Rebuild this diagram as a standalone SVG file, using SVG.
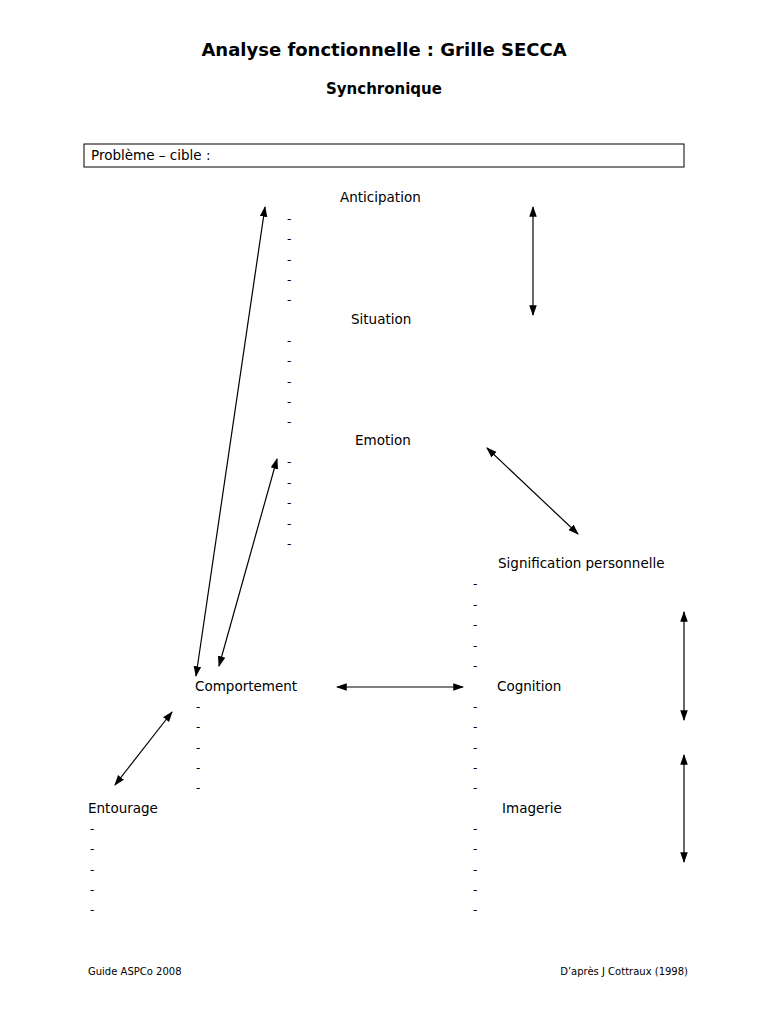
<svg xmlns="http://www.w3.org/2000/svg" width="768" height="1024" viewBox="0 0 768 1024">
<defs>
<marker id="ah" viewBox="0 0 10 10" refX="9" refY="5" markerWidth="9" markerHeight="9" orient="auto-start-reverse"><path d="M0,1.5 L10,5 L0,8.5 z" fill="#000"/></marker>
<style>
text{font-family:"DejaVu Sans","Liberation Sans",sans-serif;fill:#000}
.t{font-size:13.5px}
.d{font-size:12px}
.c line{stroke:#000;stroke-width:1.2;marker-start:url(#ah);marker-end:url(#ah)}
</style>
</defs>
<rect width="768" height="1024" fill="#fff"/>
<text x="384" y="56" text-anchor="middle" font-size="18" font-weight="bold">Analyse fonctionnelle : Grille SECCA</text>
<text x="384" y="94" text-anchor="middle" font-size="15" font-weight="bold">Synchronique</text>
<g id="probleme"><rect x="84" y="144" width="600" height="23" fill="none" stroke="#000" stroke-width="1"/><text class="t" x="91" y="160">Problème – cible :</text></g>
<g id="anticipation"><text class="t" x="340" y="202">Anticipation</text><text class="d" x="287" y="223">-</text><text class="d" x="287" y="243">-</text><text class="d" x="287" y="264">-</text><text class="d" x="287" y="284">-</text><text class="d" x="287" y="304">-</text></g>
<g id="situation"><text class="t" x="351" y="324">Situation</text><text class="d" x="287" y="345">-</text><text class="d" x="287" y="365">-</text><text class="d" x="287" y="386">-</text><text class="d" x="287" y="406">-</text><text class="d" x="287" y="426">-</text></g>
<g id="emotion"><text class="t" x="355" y="445">Emotion</text><text class="d" x="287" y="466">-</text><text class="d" x="287" y="487">-</text><text class="d" x="287" y="507">-</text><text class="d" x="287" y="528">-</text><text class="d" x="287" y="548">-</text></g>
<g id="signification"><text class="t" x="498" y="568">Signification personnelle</text><text class="d" x="473" y="588">-</text><text class="d" x="473" y="609">-</text><text class="d" x="473" y="629">-</text><text class="d" x="473" y="650">-</text><text class="d" x="473" y="670">-</text></g>
<g id="cognition"><text class="t" x="497" y="691">Cognition</text><text class="d" x="473" y="711">-</text><text class="d" x="473" y="731">-</text><text class="d" x="473" y="752">-</text><text class="d" x="473" y="772">-</text><text class="d" x="473" y="792">-</text></g>
<g id="imagerie"><text class="t" x="502" y="813">Imagerie</text><text class="d" x="473" y="833">-</text><text class="d" x="473" y="853">-</text><text class="d" x="473" y="874">-</text><text class="d" x="473" y="894">-</text><text class="d" x="473" y="914">-</text></g>
<g id="comportement"><text class="t" x="195" y="691">Comportement</text><text class="d" x="196" y="711">-</text><text class="d" x="196" y="731">-</text><text class="d" x="196" y="752">-</text><text class="d" x="196" y="772">-</text><text class="d" x="196" y="792">-</text></g>
<g id="entourage"><text class="t" x="88" y="813">Entourage</text><text class="d" x="90" y="833">-</text><text class="d" x="90" y="853">-</text><text class="d" x="90" y="874">-</text><text class="d" x="90" y="894">-</text><text class="d" x="90" y="914">-</text></g>
<g class="c" id="connectors">
<line x1="265" y1="207" x2="196" y2="676"/>
<line x1="277" y1="459" x2="219" y2="666"/>
<line x1="533" y1="207" x2="533" y2="315"/>
<line x1="487" y1="448" x2="578" y2="534"/>
<line x1="337" y1="687" x2="463" y2="687"/>
<line x1="684" y1="612" x2="684" y2="720"/>
<line x1="684" y1="755" x2="684" y2="862"/>
<line x1="172" y1="712" x2="115" y2="785"/>
</g>
<text x="88" y="975" font-size="10">Guide ASPCo 2008</text>
<text x="688" y="975" font-size="10" text-anchor="end">D’après J Cottraux (1998)</text>
</svg>
